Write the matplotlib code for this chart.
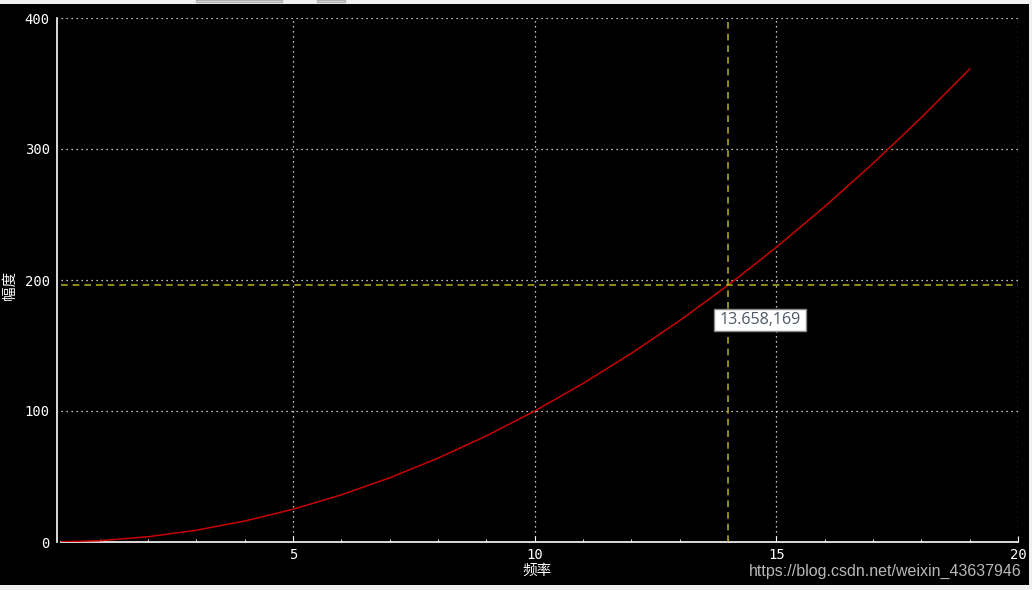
import matplotlib
matplotlib.use("Agg")
import matplotlib.pyplot as plt
from matplotlib.patches import Rectangle
from matplotlib.lines import Line2D

# Data
freq = [0, 1, 2, 3, 4, 5, 6, 7, 8, 9, 10, 11, 12, 13, 14, 15, 16, 17, 18, 19]
amp = [0, 1, 4, 9, 16, 25, 36, 49, 64, 81, 100, 121, 144, 169, 196, 225, 256, 289, 324, 361]
x_ticks = [5, 10, 15, 20]
y_ticks = [0, 100, 200, 300, 400]
cross_x = 14.0
cross_y = 196
tooltip_text = "13.658,169"
x_label = "频率"
y_label = "幅度"
watermark = "https://blog.csdn.net/weixin_43637946"

W, H = 1032, 590
fig = plt.figure(figsize=(W / 100, H / 100), dpi=100, facecolor="black")

def fx(px):
    return px / W

def fy(py):
    return 1 - py / H

ax_l, ax_r, ax_t, ax_b = 61, 1018, 18, 542
ax = fig.add_axes([fx(ax_l), fy(ax_b), (ax_r - ax_l) / W, (ax_b - ax_t) / H])
ax.set_facecolor("black")
ax.set_xlim(0.2, 20.0)
ax.set_ylim(0, 400)

for s in ["top", "right", "left"]:
    ax.spines[s].set_visible(False)
ax.spines["bottom"].set_color("white")
ax.spines["bottom"].set_linewidth(1.2)

ax.set_xticks(x_ticks)
ax.set_yticks(y_ticks)
ax.set_xticks(range(1, 20), minor=True)
ax.tick_params(axis="x", which="major", direction="in", length=4, color="white",
               labelcolor="white", pad=4)
ax.tick_params(axis="x", which="minor", direction="in", length=2, color="white")
ax.tick_params(axis="y", which="major", length=0, labelcolor="white", pad=8)
for lab in ax.get_xticklabels() + ax.get_yticklabels():
    lab.set_fontfamily("DejaVu Sans Mono")
    lab.set_fontsize(10)
    lab.set_fontweight("light")

ax.grid(True, which="major", color="white", linestyle=(0, (1, 3)), linewidth=0.9)
ax.set_axisbelow(True)

ax.plot(freq, amp, color="#c80000", linewidth=1.1, zorder=3)

ax.axvline(cross_x, color="#a8a418", linestyle=(0, (4, 3)), linewidth=1.2, zorder=4)
ax.axhline(cross_y, color="#a8a418", linestyle=(0, (4, 3)), linewidth=1.2, zorder=4)

# left axis backbone
fig.add_artist(Line2D([fx(56.5), fx(56.5)], [fy(18), fy(542)], color="white", linewidth=1.2))

# axis titles
fig.text(fx(537), fy(571), x_label, color="white", fontsize=10.5,
         family=["Noto Sans CJK SC", "DejaVu Sans"], ha="center", va="center")
fig.text(fx(10), fy(285), y_label, color="white", fontsize=10.5, rotation=90,
         family=["Noto Sans CJK SC", "DejaVu Sans"], ha="center", va="center")

# tooltip
fig.add_artist(Rectangle((fx(713.5), fy(331)), (806 - 713.5) / W, (331 - 308.5) / H,
                         facecolor="white", edgecolor="#8a8a8a", linewidth=1,
                         transform=fig.transFigure))
fig.text(fx(760), fy(320), tooltip_text, color="#4e5866", fontsize=11.5,
         family="Open Sans", ha="center", va="center")

# watermark
fig.text(fx(1022), fy(571), watermark, color="#b8b8b8", fontsize=11.5,
         family="Liberation Sans", ha="right", va="center")

# window chrome strips
fig.add_artist(Rectangle((0, fy(3.5)), 1, 3.5 / H, facecolor="#f0f0f0", edgecolor="none",
                         transform=fig.transFigure))
fig.add_artist(Rectangle((fx(196), fy(2)), 86 / W, 2 / H, facecolor="#f0f0f0",
                         edgecolor="#b0b0b0", linewidth=1, transform=fig.transFigure))
fig.add_artist(Rectangle((fx(317), fy(2)), 28 / W, 2 / H, facecolor="#f0f0f0",
                         edgecolor="#b0b0b0", linewidth=1, transform=fig.transFigure))
fig.add_artist(Rectangle((0, 0), 1, 5 / H, facecolor="#f0f0f0", edgecolor="none",
                         transform=fig.transFigure))
fig.add_artist(Rectangle((fx(1029), 0), 3 / W, 1, facecolor="#f0f0f0", edgecolor="none",
                         transform=fig.transFigure))

fig.savefig("out.png", dpi=100, facecolor="black")
